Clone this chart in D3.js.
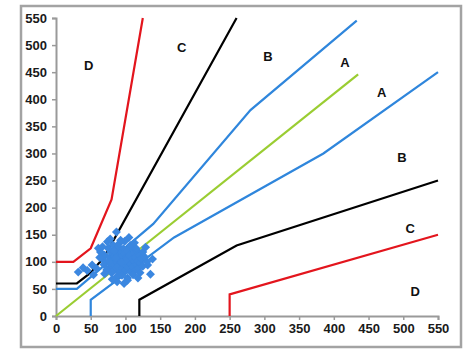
<!DOCTYPE html>
<html>
<head>
<meta charset="utf-8">
<script src="https://cdn.jsdelivr.net/npm/d3@7"></script>
<style>
  body { margin: 0; background: #fff; }
  text { font-family: Arial, "Liberation Sans", sans-serif; font-weight: bold; }
</style>
</head>
<body>
<div id="grid"></div>
<script>

// zone boundaries (reference, mg/dL)
const lineGreen   = [[0,0],[435,446]];
const lineBlueUp  = [[0,50],[30,50],[140,170],[280,380],[433,545]];
const lineBlueLo  = [[50,0],[50,30],[170,145],[385,300],[550,450]];
const lineBlackUp = [[0,60],[30,60],[50,80],[70,110],[260,550]];
const lineBlackLo = [[120,0],[120,30],[260,130],[550,250]];
const lineRedUp   = [[0,100],[25,100],[50,125],[80,215],[125,550]];
const lineRedLo   = [[250,0],[250,40],[550,150]];

const zoneNames = ['D','C','B','A','A','B','C','D'];
const zoneX     = [47, 181, 305, 416, 469, 498, 510, 517];
const zoneY     = [463, 495, 480, 469, 412, 293, 161, 45];

const tickVals = [0,50,100,150,200,250,300,350,400,450,500,550];

// measured pairs (x = reference, y = estimate)
const ptX = [64,67,70,72,75,77,78,79,81,82,83,84,85,86,87,88,89,90,91,92,93,94,95,96,97,98,99,100,
             101,102,103,104,105,106,107,108,109,110,111,112,113,114,115,116,117,118,119,120,121,123,
             125,127,73,76,80,83,87,91,95,99,103,107,111,115,69,63,61,74,93,87,32,39,45,52,54,58,
             136,129,132,139,103,88,81,98,121,125,131,78,105,67,113,70,118,100,94,86];
const ptY = [118,105,112,98,125,108,90,118,102,131,95,110,86,122,100,114,92,128,106,80,118,97,110,88,
             124,102,115,84,94,108,120,90,100,112,82,96,126,105,90,116,100,84,108,95,120,102,88,112,
             98,106,92,110,85,100,80,120,72,134,75,138,70,130,76,125,95,108,125,137,140,155,81,89,84,
             94,76,88,77,127,94,105,66,63,68,60,80,118,100,142,145,128,135,78,70,103,99,107];

const width = 474, height = 354;
const svg = d3.select('#grid')
              .append('svg')
              .attr('width', width)
              .attr('height', height);

// outer frame
svg.append('rect')
   .attr('x', 21).attr('y', 6)
   .attr('width', 440).attr('height', 341)
   .style('fill', 'none')
   .style('stroke', '#a3a3a3')
   .style('stroke-width', 2.5);

let scaleX = d3.scaleLinear().domain([0,550]).range([56,438]);
let scaleY = d3.scaleLinear().domain([0,550]).range([316,18]);

let xAxis = d3.axisBottom(scaleX).tickValues(tickVals).tickSize(4).tickPadding(4);
let yAxis = d3.axisLeft(scaleY).tickValues(tickVals).tickSize(4).tickPadding(5);

let xAxisGroup = svg.append('g')
                    .attr('transform', 'translate(0,' + scaleY(0) + ')')
                    .call(xAxis);
let yAxisGroup = svg.append('g')
                    .attr('transform', 'translate(' + scaleX(0) + ',0)')
                    .call(yAxis);

[xAxisGroup, yAxisGroup].forEach(g => {
  g.select('.domain').style('stroke', '#9a9a9a').style('stroke-width', 2);
  g.selectAll('.tick line').style('stroke', '#9a9a9a').style('stroke-width', 1.5);
  g.selectAll('.tick text')
   .style('font-size', '13px')
   .style('font-weight', 'bold')
   .style('font-family', 'Arial, "Liberation Sans", sans-serif')
   .style('fill', '#1a1a1a');
});

let line = d3.line().x(d => scaleX(d[0])).y(d => scaleY(d[1]));

const lines = [
  {pts: lineGreen,   color: '#9acd32'},
  {pts: lineBlueUp,  color: '#2f86dc'},
  {pts: lineBlueLo,  color: '#2f86dc'},
  {pts: lineBlackUp, color: '#000000'},
  {pts: lineBlackLo, color: '#000000'},
  {pts: lineRedUp,   color: '#e3151d'},
  {pts: lineRedLo,   color: '#e3151d'}
];

svg.selectAll('path.zone')
   .data(lines)
   .enter()
   .append('path')
   .attr('class', 'zone')
   .attr('d', d => line(d.pts))
   .style('fill', 'none')
   .style('stroke', d => d.color)
   .style('stroke-width', 2.2);

// data points as diamonds
let diamond = d3.symbol().type(d3.symbolSquare).size(40);
svg.selectAll('path.pt')
   .data(ptX.map((x,i) => ({x: x, y: ptY[i]})))
   .enter()
   .append('path')
   .attr('class', 'pt')
   .attr('d', diamond)
   .attr('transform', d => 'translate(' + scaleX(d.x) + ',' + scaleY(d.y) + ') rotate(45)')
   .style('fill', '#3b87e0');

svg.selectAll('text.zlabel')
   .data(zoneNames)
   .enter()
   .append('text')
   .attr('class', 'zlabel')
   .attr('x', (d,i) => scaleX(zoneX[i]))
   .attr('y', (d,i) => scaleY(zoneY[i]))
   .attr('dy', '0.36em')
   .style('text-anchor', 'middle')
   .style('font-size', '13px')
   .style('fill', '#111')
   .text(d => d);

</script>
</body>
</html>
